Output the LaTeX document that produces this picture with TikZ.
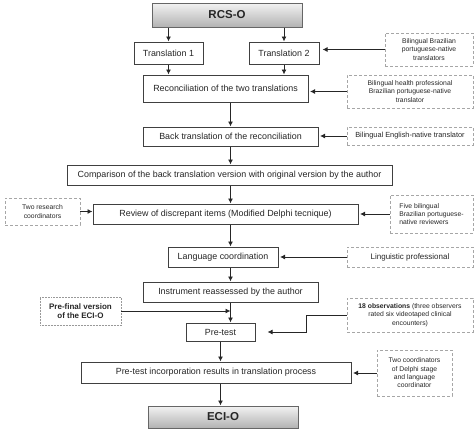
\documentclass[tikz,border=0pt]{standalone}
\usepackage{fontspec}
\setmainfont{Liberation Sans}
\usepackage{tikz}
\usetikzlibrary{arrows.meta,shadows}
\tikzstyle{stepbox}=[draw=black!75, line width=1pt, fill=white, inner sep=1pt,
	font=\fontsize{8.9}{10}\selectfont, text=black!85]
\tikzstyle{endbox}=[stepbox, draw=black!60, top color=gray!10, bottom color=gray!60,
	font=\fontsize{11.5}{13}\selectfont\bfseries,
	drop shadow={shadow xshift=1.2pt, shadow yshift=-1.2pt, fill=gray!45}]
\tikzstyle{helper}=[draw=gray!70, densely dashed, line width=.5pt, inner sep=1pt,
	align=center, font=\fontsize{6.8}{8.3}\selectfont, text=black!85]
\tikzstyle{flow}=[line width=.9pt, draw=black!85, -{Latex[length=5pt,width=5pt]}]
\newcommand{\stepnode}[5]{
	\node[stepbox, minimum width=#3pt, minimum height=#4pt] (#1) at #2 {#5};
}

\begin{document}
\begin{tikzpicture}[x=1pt,y=-1pt]
	\useasboundingbox (0,0) rectangle (474,431);
%
	\node[endbox, minimum width=150pt, minimum height=24pt] (rcs) at (227,15) {RCS-O};
	\stepnode{trA}{(168.5,53)}{69}{22}{Translation 1}
	\stepnode{trB}{(284,53)}{70}{22}{Translation 2}
	\stepnode{recon}{(225.5,88.5)}{165}{27}{Reconciliation of the two translations}
	\stepnode{back}{(230.5,136.5)}{175}{19}{Back translation of the reconciliation}
	\stepnode{comp}{(229.5,175)}{325}{20}{Comparison of the back translation version with original version by the author}
	\stepnode{review}{(225.5,214)}{265}{20}{Review of discrepant items (Modified Delphi tecnique)}
	\stepnode{lang}{(223,257)}{110}{20}{Language coordination}
	\stepnode{instr}{(230.5,292)}{175}{20}{Instrument reassessed by the author}
	\stepnode{pretest}{(220.5,332)}{69}{18}{Pre-test}
	\stepnode{incorp}{(216,372.5)}{270}{21}{Pre-test incorporation results in translation process}
	\node[endbox, minimum width=150pt, minimum height=22pt] (eci) at (223,417) {ECI-O};
%
	\node[helper, minimum width=88pt, minimum height=33pt] (hA) at (429,49.5)
		{Bilingual Brazilian\\ portuguese-native\\ translators};
	\node[helper, minimum width=126pt, minimum height=33pt] (hB) at (410,91.5)
		{Bilingual health professional\\ Brazilian portuguese-native\\ translator};
	\node[helper, minimum width=126pt, minimum height=18pt, font=\fontsize{7.4}{8.5}\selectfont] (hC) at (410,136)
		{Bilingual English-native translator};
	\node[helper, minimum width=75pt, minimum height=27pt] (hD) at (42.5,211.5)
		{Two research\\ coordinators};
	\node[helper, align=left, minimum width=83pt, minimum height=38pt] (hE) at (431.5,214)
		{Five bilingual\\ Brazilian portuguese-\\ native reviewers};
	\node[helper, minimum width=126pt, minimum height=20pt, font=\fontsize{8}{9}\selectfont] (hF) at (410,257)
		{Linguistic professional};
	\node[helper, draw=gray!80, densely dotted, minimum width=81pt, minimum height=28pt,
		font=\fontsize{8}{9.5}\selectfont\bfseries] (hG) at (80.5,311)
		{Pre-final version\\ of the ECI-O};
	\node[helper, minimum width=126pt, minimum height=34pt] (hH) at (410,315)
		{\textbf{18 observations} (three observers\\ rated six videotaped clinical\\ encounters)};
	\node[helper, minimum width=75pt, minimum height=46pt] (hI) at (414.5,373)
		{Two coordinators\\ of Delphi stage\\ and language\\ coordinator};
%
	\draw[flow] (rcs.south -| trA) -- (trA.north);
	\draw[flow] (rcs.south -| trB) -- (trB.north);
	\draw[flow] (trA.south) -- (trA.south |- recon.north);
	\draw[flow] (trB.south) -- (trB.south |- recon.north);
	\draw[flow] (back.north |- recon.south) -- (back.north);
	\draw[flow] (back.south) -- (back.south |- comp.north);
	\draw[flow] (comp.south -| back.south) -- (review.north -| back.south);
	\draw[flow] (review.south -| back.south) -- (lang.north -| back.south);
	\draw[flow] (lang.south -| back.south) -- (instr.north);
	\draw[flow] (instr.south) -- (instr.south |- pretest.north);
	\draw[flow] (pretest.south) -- (pretest.south |- incorp.north);
	\draw[flow] (pretest.south |- incorp.south) -- (pretest.south |- eci.north);
%
	\draw[flow, shorten >=3pt] (hA.west) -- (hA.west -| trB.east);
	\draw[flow, shorten >=1.5pt] (hB.west) -- (hB.west -| recon.east);
	\draw[flow, shorten >=1.5pt] (hC.west) -- (hC.west -| back.east);
	\draw[flow] (hD.east) -- (hD.east -| review.west);
	\draw[flow, shorten >=1.5pt] (hE.west) -- (hE.west -| review.east);
	\draw[flow, shorten >=1.5pt] (hF.west) -- (hF.west -| lang.east);
	\draw[flow] (hG.east) -- (hG.east -| instr.south);
	\draw[flow, shorten >=12pt] (hH.west) -- ++(-40,0) |- (pretest.east);
	\draw[flow, shorten >=1.5pt] (hI.west) -- (hI.west -| incorp.east);
\end{tikzpicture}
\end{document}
